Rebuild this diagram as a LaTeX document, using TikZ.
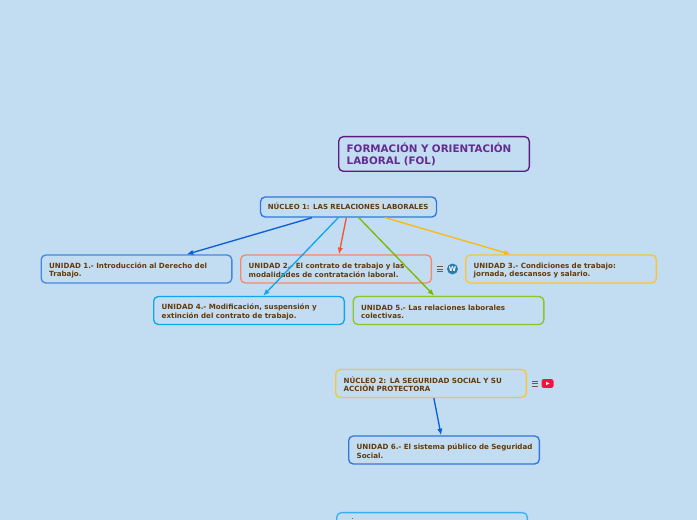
\documentclass[tikz,border=0pt]{standalone}
\usepackage{fontspec}
\setmainfont{DejaVu Sans}
\usetikzlibrary{arrows.meta}
\usetikzlibrary{shadows}
\definecolor{bgblue}{HTML}{C2DDF2}
\definecolor{textbrown}{HTML}{643A0A}
\definecolor{titlepurple}{HTML}{642C90}
\definecolor{darkpurple}{HTML}{5E1A80}
\definecolor{linkblue}{HTML}{0A5FD8}
\definecolor{linkred}{HTML}{F4562B}
\definecolor{linkcyan}{HTML}{12A5EE}
\definecolor{linkgreen}{HTML}{7DB800}
\definecolor{linkyellow}{HTML}{FDB813}
\definecolor{iconblue}{HTML}{2B7CAD}
\definecolor{iconred}{HTML}{F5123F}
\tikzset{
  topic/.style = {draw, fill = bgblue, rounded corners = 3.5, line width = 1,
    minimum width = 143, minimum height = 21, inner sep = 0, text width = 131, align = left,
    text height = 6.3, font = \bfseries\fontsize{5.35}{6.4}\selectfont, text = textbrown,
    drop shadow = {opacity = .12, shadow xshift = .4, shadow yshift = -.6}},
  link/.style = {-{Latex[length = 5, width = 4]}, line width = 1},
  menubar/.style = {draw = textbrown!85, line width = .5}
}
\begin{document}
\begin{tikzpicture}[x = .75pt, y = -.75pt]
    \fill [bgblue] (0, 0) rectangle (697, 520);
    \clip (0, 0) rectangle (697, 520);
    \node [topic, draw = darkpurple, minimum height = 26, text = titlepurple, text height = 7.5, font = \bfseries\fontsize{7.75}{9.2}\selectfont] (title) at (434, 154) {FORMACIÓN Y ORIENTACIÓN\\LABORAL (FOL)};
    \node [topic, draw = linkblue!85, minimum width = 132, minimum height = 15, text width = 121, text height = 4.4, font = \bfseries\fontsize{5.25}{6.4}\selectfont] (nucleo1) at (348.5, 207) {\mbox{NÚCLEO 1: LAS RELACIONES LABORALES}};
    \node [topic, draw = linkblue!75] (unidad1) at (136.5, 269) {UNIDAD 1.- Introducción al Derecho del\\Trabajo.};
    \node [topic, draw = linkred!70] (unidad2) at (336, 269) {UNIDAD 2.- El contrato de trabajo y las\\modalidades de contratación laboral.};
    \node [topic, draw = linkyellow!85] (unidad3) at (561, 269) {UNIDAD 3.- Condiciones de trabajo:\\jornada, descansos y salario.};
    \node [topic, draw = linkcyan] (unidad4) at (249, 310.5) {UNIDAD 4.- Modificación, suspensión y\\extinción del contrato de trabajo.};
    \node [topic, draw = linkgreen!85] (unidad5) at (448.5, 310.5) {UNIDAD 5.- Las relaciones laborales\\colectivas.};
    \node [topic, draw = linkyellow!85] (nucleo2) at (431, 383.5) {NÚCLEO 2: LA SEGURIDAD SOCIAL Y SU\\ACCIÓN PROTECTORA};
    \node [topic, draw = linkblue!85] (unidad6) at (444, 450) {\mbox{UNIDAD 6.- El sistema público de Seguridad}\\Social.};
    \node [topic, draw = linkcyan!85, anchor = north] (nucleo3) at (432, 512) {};
    \draw [link, linkblue] (nucleo1) -- (unidad1);
    \draw [link, linkred] (nucleo1) -- (unidad2);
    \draw [link, linkyellow] (nucleo1) -- (unidad3);
    \draw [link, linkcyan] (nucleo1) -- (unidad4);
    \draw [link, linkgreen] (nucleo1) -- (unidad5);
    \draw [link, linkblue] (nucleo2) -- (unidad6);
    % note marks and icons
    \foreach \y in {266.5, 269, 271.5} \draw [menubar] (437, \y) -- (443, \y);
    \foreach \y in {381, 383.5, 386} \draw [menubar] (532, \y) -- (538, \y);
    \node [circle, fill = iconblue, minimum size = 8.2, inner sep = 0, text = white, font = \bfseries\fontsize{5}{5}\selectfont] (wpicon) at (452.5, 269) {W};
    \node [fill = iconred, rounded corners = 1.5, minimum width = 9, minimum height = 6.5, inner sep = 0] (yticon) at (547.5, 383.5) {};
    \fill [white] (546, 381.8) -- (549.5, 383.5) -- (546, 385.2) -- cycle;
    \fill [textbrown!70!bgblue] (352.2, 518) rectangle (353.2, 519);
\end{tikzpicture}
\end{document}
